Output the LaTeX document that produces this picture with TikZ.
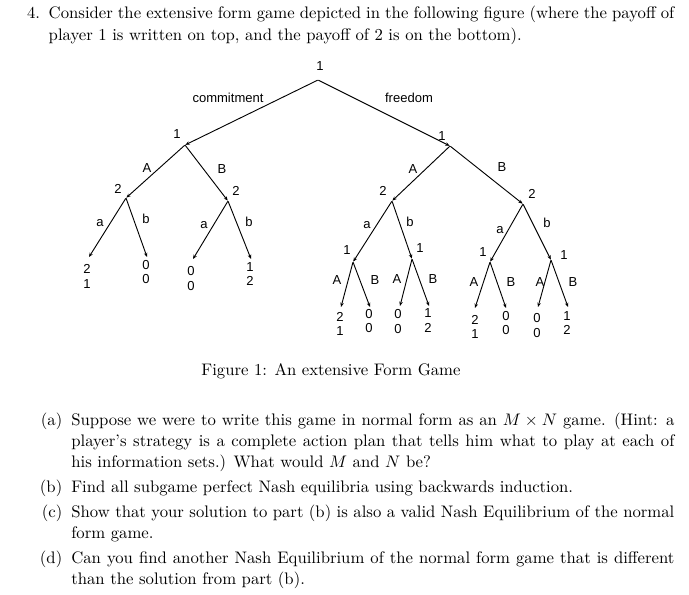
\documentclass[tikz,border=0pt]{standalone}
\usepackage{fontspec}
\usepackage{amsmath}
\newfontfamily\treefont{Liberation Sans}
\usetikzlibrary{arrows.meta}

\tikzset{
  dec/.style={inner sep=0pt, minimum size=0pt},
  lbl/.style={font=\treefont\fontsize{7.8}{8.8}\selectfont, inner sep=0pt},
  pay/.style={lbl, align=center},
  edge/.style={line width=0.55pt, -{Stealth[length=2.6pt,width=2.1pt]}},
  para/.style={anchor=base west, inner sep=0pt, align=justify},
  itemlbl/.style={anchor=base east, inner sep=0pt}
}

\begin{document}
\begin{tikzpicture}[x=0.5988pt,y=-0.5988pt]

  \useasboundingbox (0,0) rectangle (689,594);

  % question text
  \node[itemlbl] (qnum) at (40.4,18) {4.};
  \node[para, text width=374.6pt, font=\fontsize{10}{13.2}\selectfont] (qtext) at (48.4,18)
    {Consider the extensive form game depicted in the following figure (where the payoff of\linebreak
     player 1 is written on top, and the payoff of 2 is on the bottom).};

  % decision nodes
  \node[dec] (r) at (318,80) {};
  \node[dec] (c) at (185,145) {};
  \node[dec] (f) at (450,146) {};
  \node[dec] (cA) at (126,198) {};
  \node[dec] (cB) at (228,201) {};
  \node[dec] (fA) at (392,201) {};
  \node[dec] (fB) at (523,204) {};
  \node[dec] (fAa) at (353,262) {};
  \node[dec] (fAb) at (412,259) {};
  \node[dec] (fBa) at (490,262) {};
  \node[dec] (fBb) at (551,260) {};

  % who moves
  \foreach \n/\x/\y/\p in {r/320/66/1, c/177/134/1, f/442/136/1,
      cA/118/189/2, cB/236/191/2, fA/383/191/2, fB/532/194/2,
      fAa/347/250/1, fAb/420/248/1, fBa/483/252/1, fBb/564/255/1}
    \node[lbl] (\n-pl) at (\x,\y) {\p};

  % end points of the last moves
  \coordinate (cAa) at (89,257);
  \coordinate (cAb) at (147,257);
  \coordinate (cBa) at (193,259);
  \coordinate (cBb) at (251,259);
  \coordinate (fAaA) at (341,307);
  \coordinate (fAaB) at (370,307);
  \coordinate (fAbA) at (400,306);
  \coordinate (fAbB) at (429,306);
  \coordinate (fBaA) at (475,308);
  \coordinate (fBaB) at (506,308);
  \coordinate (fBbA) at (538,307);
  \coordinate (fBbB) at (568,307);

  % moves
  \draw[edge] (r) -- (c);
  \draw[edge] (r) -- (f);

  \draw[edge] (c) -- (cA);
  \draw[edge] (c) -- (cB);
  \draw[edge] (f) -- (fA);
  \draw[edge] (f) -- (fB);

  \draw[edge] (cA) -- (cAa);
  \draw[edge] (cA) -- (cAb);
  \draw[edge] (cB) -- (cBa);
  \draw[edge] (cB) -- (cBb);
  \draw[edge] (fA) -- (fAa);
  \draw[edge] (fA) -- (fAb);
  \draw[edge] (fB) -- (fBa);
  \draw[edge] (fB) -- (fBb);

  \draw[edge] (fAa) -- (fAaA);
  \draw[edge] (fAa) -- (fAaB);
  \draw[edge] (fAb) -- (fAbA);
  \draw[edge] (fAb) -- (fAbB);
  \draw[edge] (fBa) -- (fBaA);
  \draw[edge] (fBa) -- (fBaB);
  \draw[edge] (fBb) -- (fBbA);
  \draw[edge] (fBb) -- (fBbB);

  % move labels
  \node[lbl] (commit) at (228,98) {commitment};
  \node[lbl] (free) at (409,98) {freedom};
  \foreach \n/\x/\y/\t in {cA-m/147/168/A, cB-m/222/169/B, fA-m/413/169/A, fB-m/502/167/B,
      cAa-m/100/223/a, cAb-m/146/219/b, cBa-m/204/225/a, cBb-m/249/222/b,
      fAa-m/367/225/a, fAb-m/410/222/b, fBa-m/500/230/a, fBb-m/547/223/b,
      fAaA-m/337/280/A, fAaB-m/375/280/B, fAbA-m/397/279/A, fAbB-m/433/279/B,
      fBaA-m/474/282/A, fBaB-m/511/282/B, fBbA-m/540/282/A, fBbB-m/573/282/B}
    \node[lbl] (\n) at (\x,\y) {\t};

  % payoffs
  \foreach \n/\x/\y/\u/\v in {cAa/87/276.5/2/1, cAb/146/272/0/0, cBa/191/278.5/0/0, cBb/250/274/1/2,
      fAaA/340/324/2/1, fAaB/369/321/0/0, fAbA/398/321.5/0/0, fAbB/428/320.5/1/2,
      fBaA/475/327/2/1, fBaB/506/323/0/0, fBbA/537/325.5/0/0, fBbB/567/323/1/2}
    \node[pay] (\n-u) at (\x,\y) {\u\\\v};

  % caption
  \node[anchor=base, inner sep=0pt] (cap) at (331,375) {Figure 1: An extensive Form Game};

  % parts
  \foreach \n/\y in {a/425, b/492, c/517, d/563}
    \node[itemlbl] (lab-\n) at (62.6,\y) {(\n)};
  \node[para, text width=361.1pt, font=\fontsize{10}{12.6}\selectfont] (pa) at (71,425)
    {Suppose we were to write this game in normal form as an $M\times N$ game. (Hint: a\linebreak
     player's strategy is a complete action plan that tells him what to play at each of\linebreak
     his information sets.) What would $M$ and $N$ be?};
  \node[para, text width=361.1pt, font=\fontsize{10}{12.6}\selectfont] (pb) at (71,492)
    {Find all subgame perfect Nash equilibria using backwards induction.};
  \node[para, text width=361.1pt, font=\fontsize{10}{12.6}\selectfont] (pc) at (71,517)
    {Show that your solution to part (b) is also a valid Nash Equilibrium of the normal\linebreak
     form game.};
  \node[para, text width=361.1pt, font=\fontsize{10}{12.6}\selectfont] (pd) at (71,563)
    {Can you find another Nash Equilibrium of the normal form game that is different\linebreak
     than the solution from part (b).};

\end{tikzpicture}
\end{document}
